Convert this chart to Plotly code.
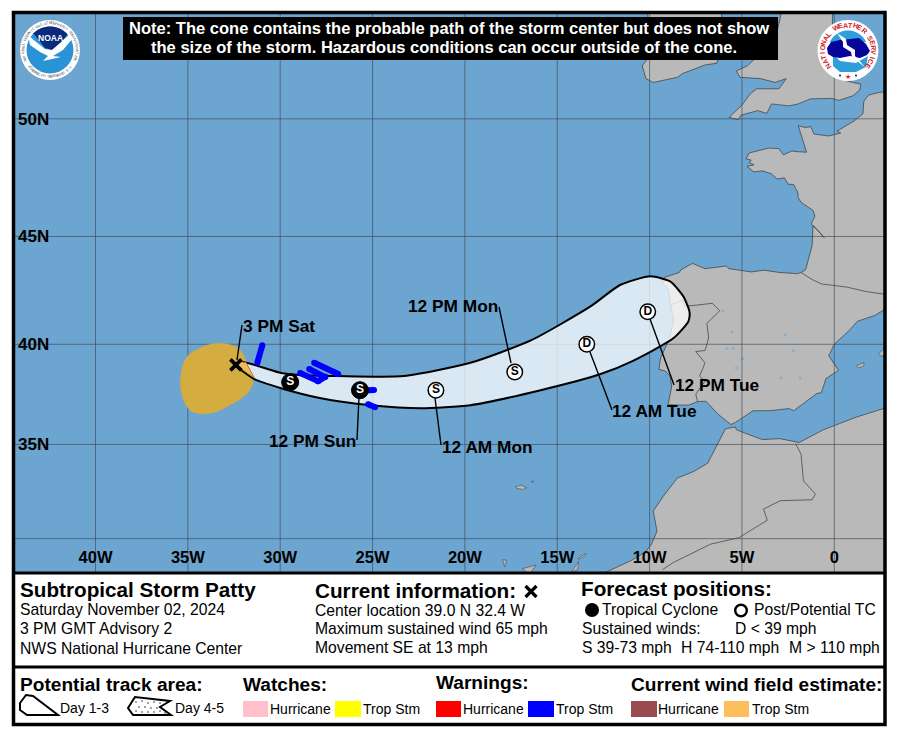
import math
import plotly.graph_objects as go

W, H = 897, 736

# ---------- data (lon, lat in degrees) ----------
lon_ticks = [-40, -35, -30, -25, -20, -15, -10, -5, 0]
lon_labels = ["40W", "35W", "30W", "25W", "20W", "15W", "10W", "5W", "0"]
lat_ticks = [50, 45, 40, 35, 30]
lat_labels = ["50N", "45N", "40N", "35N", ""]

main_lon = [2.9,2.4,1.85,1.6,1.55,1.1,0.15,0.35,-0.3,-1.1,-1.27,-1.6,-1.95,-1.8,-1.6,-1.5,-2.0,-2.3,-2.75,-3.0,-3.55,-4.0,-4.6,-4.78,-4.5,-4.6,-4.35,-4.73,-4.35,-3.9,-3.4,-3.1,-2.7,-2.5,-2.2,-2.1,-1.98,-1.95,-1.8,-1.15,-1.05,-1.2,-1.25,-0.75,-0.55,-0.8,-1.15,-1.2,-1.3,-1.4,-1.55,-1.8,-2,-3.0,-3.8,-4.5,-5.7,-5.85,-7.0,-7.68,-8.3,-8.4,-9.2,-9.3,-9.0,-8.9,-8.87,-8.7,-8.95,-9.4,-9.5,-9.15,-8.9,-8.8,-9.0,-7.9,-7.4,-6.95,-6.3,-5.6,-5.35,-4.4,-3.5,-2.45,-2.2,-0.95,-0.7,-0.45,0.23,-0.3,0,0.85,1.25,2.2,2.9]
main_lat = [51.1,51.05,50.95,50.7,50.2,49.93,49.5,49.42,49.3,49.38,49.68,49.65,49.72,49.35,48.85,48.63,48.65,48.68,48.52,48.78,48.8,48.72,48.6,48.35,48.3,48.2,48.1,48.04,47.8,47.85,47.72,47.5,47.55,47.28,47.27,47.1,46.95,46.7,46.5,46.15,45.9,45.65,45.55,45.15,44.95,45.15,45.5,44.6,44.3,43.9,43.5,43.37,43.32,43.38,43.48,43.4,43.55,43.67,43.55,43.79,43.5,43.37,43.15,42.9,42.6,42.2,41.87,41.15,40.2,39.36,38.78,38.7,38.45,37.95,37.02,37.0,37.18,37.2,36.55,36.02,36.13,36.72,36.72,36.83,36.72,37.58,37.63,38.33,38.73,39.45,40,40.7,41.1,41.38,41.75]
africa_lon = [2.9,1.2,-0.6,-1.9,-2.95,-3.9,-5.3,-5.35,-5.9,-6.85,-7.6,-8.5,-9.25,-9.8,-9.6,-9.9,-10.2,-11,-12.9,-12.9,2.9]
africa_lat = [36.9,36.4,35.75,35.1,35.3,35.25,35.75,35.9,35.8,34.03,33.6,33.25,32.3,31.5,30.4,29.7,29.3,28.8,27.9,27,27]
britain_lon = [-3.0,-2.9,-3.1,-3.7,-4.6,-4.4,-4.75,-4.1,-4.1,-4.7,-5.3,-5.1,-4.0,-3.2,-2.6,-3.0,-4.2,-4.55,-5.0,-5.5,-5.7,-5.2,-5.05,-4.15,-3.65,-3.4,-2.45,-1.95,-1.3,-0.15,0.25,1.0,1.38,1.44,0.7,1.3,1.75,1.3,0.35,0.2,0,-0.1,-0.1,-0.1]
britain_lat = [55,54,53.4,53.3,53.3,52.9,52.8,52.9,52.5,52.1,51.9,51.65,51.6,51.45,51.6,51.2,51.2,51.0,50.55,50.2,50.06,49.96,50.15,50.33,50.22,50.6,50.52,50.6,50.8,50.82,50.74,50.92,51.15,51.38,51.5,51.95,52.48,52.93,52.95,52.8,53.3,53.6,54.1,55]
ireland_lon = [-6.1,-6.1,-6.35,-7.0,-8.2,-8.5,-9.8,-10.2,-10.4,-9.9,-9.5,-10.1,-10.1,-10.1]
ireland_lat = [55,53.35,52.2,52.13,51.8,51.65,51.45,51.6,52.1,52.55,53.0,53.4,54.0,55]
portugal_lon = [-8.87,-8.2,-8.1,-7.2,-6.6,-6.2,-6.9,-6.8,-7.0,-7.5,-7.0,-7.15,-7.3,-7.0,-7.5,-7.4]
portugal_lat = [41.87,42.1,41.8,41.9,41.95,41.6,41.0,40.3,39.7,39.65,39.1,38.75,38.45,38.2,37.55,37.18]
pyrenees_lon = [-1.8,-1.2,-0.7,0.7,1.7,2.9]
pyrenees_lat = [43.37,43.05,42.85,42.7,42.5,42.35]
maghreb_lon = [-2.1,-1.8,-1.67,-1.02,-1.2,-2.92,-3.83,-3.63,-5.17,-6.7,-8.7,-9.3]
maghreb_lat = [35.05,34.5,33.1,32.4,32.1,32.05,31.6,31,30.05,29.7,28.7,28.3]
islands = {
    "Ibiza": ([1.2,1.6,1.6,1.3,1.2], [38.95,39.12,38.95,38.85,38.95]),
    "Mallorca": ([2.4,2.9,2.9,2.5,2.4], [39.55,39.95,39.4,39.45,39.55]),
    "Madeira": ([-17.25,-16.95,-16.65,-16.85,-17.2,-17.25], [32.8,32.87,32.73,32.65,32.7,32.8]),
    "Porto Santo": ([-16.4,-16.3,-16.3,-16.4], [33.05,33.1,33.03,33.05]),
    "La Palma": ([-17.95,-17.75,-17.8,-17.85,-17.95], [28.85,28.82,28.55,28.45,28.85]),
    "Tenerife": ([-16.9,-16.15,-16.5,-16.9], [28.35,28.55,28.05,28.35]),
    "Gran Canaria": ([-15.8,-15.4,-15.6,-15.8], [28.1,28.1,27.75,28.1]),
    "Fuerteventura": ([-14.3,-13.85,-13.9,-14.5,-14.3], [28.05,28.75,28.3,28.05,28.05]),
    "Lanzarote": ([-13.9,-13.45,-13.5,-13.85,-13.9], [28.9,29.2,29.05,28.85,28.9]),
}
lakes_lon = [-6.03,-5.54,-5.47,-5.8,-4.98,-5.3,-2.66,-2.2,-1.85,-2.88]
lakes_lat = [41.6,40.6,39.8,39.8,39.3,38.85,40.45,39.7,38.35,38.35]

cone_lon = [-32.4,-32.1,-29.95,-29,-26.9,-23.3,-19.7,-16.4,-13.2,-11.6,-9.95,-8.86,-8.16,-7.84,-7.9,-8.7,-10.9,-12.65,-15.9,-19.7,-22.4,-25.1,-27.8,-29.95,-31.4,-32.4]
cone_lat = [39.0,39.15,38.6,38.5,38.45,38.45,39.1,40.2,41.8,42.8,43.2,42.95,42.25,41.55,41.1,40.3,39.2,38.55,37.75,37.0,36.85,37.0,37.35,37.85,38.3,39.0]
wind_lon = [-33.3,-32.27,-31.84,-31.46,-31.84,-32.65,-33.73,-34.8,-35.24,-35.4,-35.08,-34.27,-33.3]
wind_lat = [40.05,39.8,39.2,38.2,37.55,37.05,36.6,36.7,37.3,38.2,39.35,39.85,40.05]
overlap_lon = [-32.4,-32.1,-31.84,-31.5,-31.4,-32.4]
overlap_lat = [39.0,39.15,39.1,38.5,38.35,39.0]
warnings = [
    ([-30.97,-31.24], [39.95,39.1]),
    ([-28.16,-26.86], [39.1,38.55]),
    ([-28.92,-27.95], [38.6,38.2]),
    ([-28.43,-27.57], [38.8,38.4]),
    ([-27.95,-27.55], [38.2,38.42]),
    ([-25.19,-24.92], [37.75,37.76]),
    ([-25.24,-24.86], [37.05,36.9]),
]
current_lon, current_lat = [-32.4], [39.0]
solid_lon = [-29.46,-25.68]
solid_lat = [38.15,37.75]
solid_text = ["S","S"]
hollow_lon = [-21.57,-17.3,-13.4,-10.1]
hollow_lat = [37.75,38.65,40.0,41.55]
hollow_text = ["S","S","D","D"]

FONT = "Liberation Sans"
OCEAN = "#6CA5CF"
LAND = "#B9B9B9"
BODY = 15.7
SMALL = 14
HEAD = 20.7
HEAD2 = 19.1
LABEL = 17.3

def merc(lat):
    return math.log(math.tan(math.pi/4 + math.radians(lat)/2))
def M(lats):
    return [merc(v) for v in lats]
def px(x): return x/W
def py(y): return 1-y/H

fig = go.Figure()

def poly(lons, lats, fill=LAND, line="#3a3a3a", lw=0.7, **lkw):
    fig.add_trace(go.Scatter(x=lons, y=M(lats), mode="lines", fill="toself", fillcolor=fill,
                             line=dict(color=line, width=lw, **lkw), hoverinfo="skip", showlegend=False))
def line(lons, lats, color="#3a3a3a", lw=0.7, **kw):
    fig.add_trace(go.Scatter(x=lons, y=M(lats), mode="lines", line=dict(color=color, width=lw),
                             hoverinfo="skip", showlegend=False, **kw))

poly(main_lon + [2.9], main_lat + [51.1])
poly(africa_lon, africa_lat)
poly(britain_lon, britain_lat)
poly(ireland_lon, ireland_lat)
for k, (a, b) in islands.items():
    poly(a, b, lw=0.5)
line(portugal_lon, portugal_lat)
line(pyrenees_lon, pyrenees_lat)
line(maghreb_lon, maghreb_lat)
fig.add_trace(go.Scatter(x=lakes_lon, y=M(lakes_lat), mode="markers",
                         marker=dict(color="#7FAFD2", size=2.5, symbol="square"), hoverinfo="skip", showlegend=False))
# graticule
for v in lon_ticks:
    line([v, v], [20, 60], color="rgba(60,70,80,0.62)", lw=1)
for v in lat_ticks:
    line([-50, 5], [v, v], color="rgba(60,70,80,0.62)", lw=1)

poly(wind_lon, wind_lat, fill="#D4AC40", line="#D4AC40", lw=0.5, shape="spline", smoothing=1)
fig.add_trace(go.Scatter(x=cone_lon, y=M(cone_lat), mode="lines", fill="toself",
                         fillcolor="rgba(255,255,255,0.75)", line=dict(color="black", width=2, shape="spline", smoothing=0.6),
                         hoverinfo="skip", showlegend=False))
poly(overlap_lon, overlap_lat, fill="#F2B95E", line="#A8782A", lw=1)

for a, b in warnings:
    fig.add_trace(go.Scatter(x=a, y=M(b), mode="lines+markers", line=dict(color="#0000FF", width=6),
                             marker=dict(color="#0000FF", size=6), hoverinfo="skip", showlegend=False))

fig.add_trace(go.Scatter(x=current_lon, y=M(current_lat), mode="markers",
                         marker=dict(symbol="x-thin", size=11, line=dict(color="black", width=3.6)),
                         hoverinfo="skip", showlegend=False))
fig.add_trace(go.Scatter(x=solid_lon, y=M(solid_lat), mode="markers+text", text=solid_text,
                         textfont=dict(family=FONT, size=12, color="white", weight="bold"),
                         textposition="middle center",
                         marker=dict(color="black", size=17, line=dict(color="black", width=1)),
                         hoverinfo="skip", showlegend=False))
fig.add_trace(go.Scatter(x=hollow_lon, y=M(hollow_lat), mode="markers+text", text=hollow_text,
                         textfont=dict(family=FONT, size=12, color="black", weight="bold"),
                         textposition="middle center",
                         marker=dict(color="white", size=15.5, line=dict(color="black", width=1.5)),
                         hoverinfo="skip", showlegend=False))

shapes, ann = [], []
def T(x, y, s, size=14.5, bold=False, anchor="left", color="black", angle=0):
    ann.append(dict(x=px(x), y=py(y), xref="paper", yref="paper", text=("<b>%s</b>" % s) if bold else s,
                    showarrow=False, xanchor=anchor, yanchor="middle", textangle=angle,
                    font=dict(family=FONT, size=size, color=color), borderpad=0, borderwidth=0))
def R(x0, y0, x1, y1, fill, lw=0, lc="black"):
    shapes.append(dict(type="rect", xref="paper", yref="paper", x0=px(x0), y0=py(y0), x1=px(x1), y1=py(y1),
                       fillcolor=fill, line=dict(width=lw, color=lc)))
def C(cx, cy, r, fill, lw=0, lc="black"):
    shapes.append(dict(type="circle", xref="paper", yref="paper", x0=px(cx-r), y0=py(cy-r), x1=px(cx+r), y1=py(cy+r),
                       fillcolor=fill, line=dict(width=lw, color=lc)))
def L(x0, y0, x1, y1, lw=1.4, color="black"):
    shapes.append(dict(type="line", xref="paper", yref="paper", x0=px(x0), y0=py(y0), x1=px(x1), y1=py(y1),
                       line=dict(width=lw, color=color)))
def P(points, fill, lw=0, lc="black"):
    d = "M " + " L ".join("%.5f,%.5f" % (px(a), py(b)) for a, b in points) + " Z"
    shapes.append(dict(type="path", xref="paper", yref="paper", path=d, fillcolor=fill, line=dict(width=lw, color=lc)))
def arc(cx, cy, r, t0, t1, n=24):
    return [(cx + r*math.sin(math.radians(t0+(t1-t0)*i/n)), cy - r*math.cos(math.radians(t0+(t1-t0)*i/n))) for i in range(n+1)]
def ring(cx, cy, r, text, t0, t1, size, color, bold=True, flip=False):
    n = len(text)
    for i, ch in enumerate(text):
        if ch == " ":
            continue
        t = t0 + (t1-t0)*i/(n-1)
        x = cx + r*math.sin(math.radians(t)); y = cy - r*math.cos(math.radians(t))
        T(x, y, ch, size=size, bold=bold, anchor="center", color=color, angle=(t+180 if flip else t))

# note box
R(123, 17, 778, 60, "black")
T(449, 29, "Note: The cone contains the probable path of the storm center but does not show", 16.55, True, "center", "white")
T(444, 48, "the size of the storm. Hazardous conditions can occur outside of the cone.", 16.55, True, "center", "white")

# NOAA logo
C(50, 50, 30, "white")
C(50, 50, 23.5, "#2A93D5")
P(arc(50, 50, 23.5, -48, 48) + [(60, 44), (52, 50), (45, 48), (34, 34)], "#0B2A7D")
P([(28,35),(35,41),(45,49),(52,50),(60,43),(70,34),(73,38),(63,50),(53,56),(61,57),(43,61),(48,56),(40,52),(30,45)], "white")
T(50, 38, "NOAA", 8.5, True, "center", "white")
ring(50, 50, 26.7, "NATIONAL OCEANIC AND ATMOSPHERIC ADMINISTRATION", -112, 112, 3.6, "#555555", False)
ring(50, 50, 26.7, "U.S. DEPARTMENT OF COMMERCE", 130, 230, 3.6, "#555555", False, True)

# NWS logo
C(848, 50.5, 30.5, "white")
P(arc(848, 50.5, 20, -65, 65) + [(848, 45)], "#2D9FDB")
P([(833,54),(840,61),(856,63),(868,56),(866,67),(856,72),(840,72),(833,66)], "#2D9FDB")
P([(827,48),(831,42),(840,40),(850,39),(859,38),(866,44),(870,51),(867,55),(860,58),(850,56),(840,58),(833,57),(828,54)], "#05059A")
P([(837,33),(846,39),(847,45),(855,50),(855,56),(866,68),(852,57),(851,52),(843,47),(843,42)], "white")
ring(848, 50.5, 25.6, "NATIONAL WEATHER SERVICE", -128, 128, 7, "#D2232A")
T(848, 76.5, "★", 6.5, False, "center", "#D2232A")
C(840, 75.5, 1, "#05059A"); C(856, 75.5, 1, "#05059A")

# forecast labels
T(243, 326, "3 PM Sat", LABEL, True); L(242, 325, 237, 360)
T(408, 306, "12 PM Mon", LABEL, True); L(499, 307, 511, 363)
T(269, 441, "12 PM Sun", LABEL, True); L(357, 440, 359, 397)
T(442, 447, "12 AM Mon", LABEL, True); L(441, 445, 435, 398)
T(612, 411, "12 AM Tue", LABEL, True); L(612, 410, 590, 352)
T(675, 385, "12 PM Tue", LABEL, True); L(674, 385, 650, 319)

# panels
R(14, 573, 884, 724, "white")
L(14, 573, 884, 573, 3)
L(14, 667, 884, 667, 3)
R(13.5, 12.5, 885, 724.5, "rgba(0,0,0,0)", 3.5)

T(20, 589, "Subtropical Storm Patty", HEAD, True)
T(20, 609, "Saturday November 02, 2024", BODY)
T(20, 628, "3 PM GMT Advisory 2", BODY)
T(20, 648, "NWS National Hurricane Center", BODY)
T(315, 590, "Current information:", HEAD, True)
L(525.5, 586, 536.5, 597, 3.2); L(525.5, 597, 536.5, 586, 3.2)
T(315, 610, "Center location 39.0 N 32.4 W", BODY)
T(315, 628, "Maximum sustained wind 65 mph", BODY)
T(315, 647, "Movement SE at 13 mph", BODY)
T(581, 588, "Forecast positions:", HEAD, True)
C(592, 610, 7, "black")
T(602, 609, "Tropical Cyclone", BODY)
C(741, 610.5, 5.8, "white", 2.4)
T(754, 609, "Post/Potential TC", BODY)
T(582, 628, "Sustained winds:", BODY)
T(735, 628, "D &lt; 39 mph", BODY)
T(582, 647, "S 39-73 mph", BODY)
T(680.5, 647, "H 74-110 mph", BODY)
T(788.5, 647, "M &gt; 110 mph", BODY)

T(20, 684, "Potential track area:", HEAD2, True)
P([(20,703),(26,695),(33,696),(58,715),(27,715),(20,710)], "white", 2)
T(60, 708, "Day 1-3", SMALL)
P([(128,708),(135,697),(170,701),(160,707),(171,715),(133,715)], "white", 2)
for (dx, dy) in [(136,702),(142,701),(148,703),(154,702),(160,703),(139,707),(145,707),(151,708),(157,708),(136,711),(142,712),(148,712),(154,712),(160,711),(165,713)]:
    C(dx, dy, 0.7, "black")
T(175, 708, "Day 4-5", SMALL)
T(243, 684, "Watches:", HEAD2, True)
R(243, 701, 268, 717, "#FFC0CB"); T(270, 709, "Hurricane", SMALL)
R(335, 701, 361, 717, "#FFFF00"); T(363, 709, "Trop Stm", SMALL)
T(436, 682, "Warnings:", HEAD2, True)
R(436, 701, 461, 717, "#FF0000"); T(463, 709, "Hurricane", SMALL)
R(528, 701, 554, 717, "#0000FF"); T(556, 709, "Trop Stm", SMALL)
T(631, 684, "Current wind field estimate:", HEAD2, True)
R(631, 701, 657, 717, "#9A4B50"); T(658, 709, "Hurricane", SMALL)
R(724, 701, 749, 717, "#FDBF5B"); T(752, 709, "Trop Stm", SMALL)

fig.update_layout(
    width=W, height=H, margin=dict(l=0, r=0, t=0, b=0), paper_bgcolor="white", plot_bgcolor=OCEAN,
    showlegend=False, shapes=shapes, annotations=ann, hovermode=False,
    xaxis=dict(domain=[px(14), px(884)], range=[(14-834.3)/18.47, (884-834.3)/18.47], showgrid=False, zeroline=False,
               tickvals=lon_ticks, ticktext=["<b>%s</b>" % s for s in lon_labels], ticks="", ticklabelposition="inside",
               tickfont=dict(family=FONT, size=16.5, color="black"), ticklabelstandoff=3, fixedrange=True),
    yaxis=dict(domain=[py(572.5), py(13)], range=[0.7629+(344.3-572.5)/910, 0.7629+(344.3-13)/910], showgrid=False, zeroline=False,
               tickvals=M(lat_ticks[:4]), ticktext=["<b>%s</b>" % s for s in lat_labels[:4]], ticks="", ticklabelposition="inside",
               tickfont=dict(family=FONT, size=17, color="black"), ticklabelstandoff=1, fixedrange=True),
)
fig.write_html("out.html", config=dict(displayModeBar=False),
               post_script="document.body.style.margin='0';document.documentElement.style.overflow='hidden';")
